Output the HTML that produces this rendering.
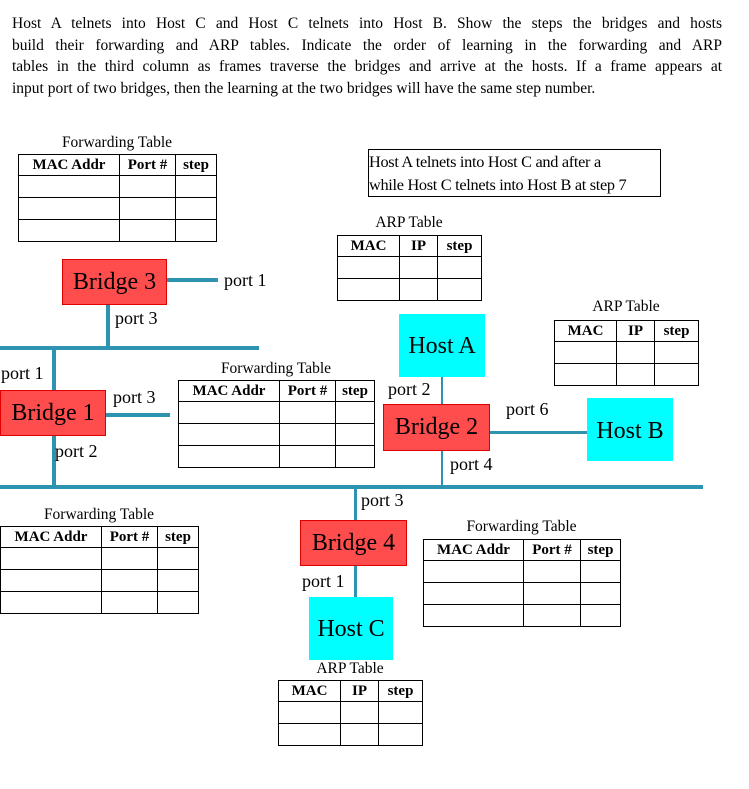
<!DOCTYPE html>
<html><head><meta charset="utf-8"><style>
body{margin:0;width:749px;height:789px;background:#fff;position:relative;overflow:hidden;font-family:"Liberation Serif",serif;color:#000}
.a{position:absolute}
.p{left:12px;top:13px;width:710px;font-size:15.5px;line-height:21.5px}
.p div{text-align:justify;text-align-last:justify;white-space:nowrap}
.p div.last{text-align-last:left}
table{position:absolute;border-collapse:collapse;table-layout:fixed}
td{border:1.3px solid #000;padding:0;height:20px;font-weight:bold;font-size:15px;text-align:center;line-height:18px}
tr.d td{height:21px}
.t{font-size:15.5px;text-align:center;white-space:nowrap}
.l{position:absolute;background:#2e93b0}
.br{position:absolute;background:#ff4c4c;border:1px solid #e00000;font-size:24px;text-align:center;box-sizing:border-box}
.h{position:absolute;background:#00ffff;font-size:24px;text-align:center;box-sizing:border-box}
.pl{position:absolute;font-size:18px;line-height:20px;white-space:nowrap}
</style></head><body>
<div class="a p">
<div style="white-space:normal">Host A telnets into Host C and Host C telnets into Host B. Show the steps the bridges and hosts</div>
<div style="white-space:normal">build their forwarding and ARP tables. Indicate the order of learning in the forwarding and ARP</div>
<div style="white-space:normal">tables in the third column as frames traverse the bridges and arrive at the hosts. If a frame appears at</div>
<div class="last">input port of two bridges, then the learning at the two bridges will have the same step number.</div>
</div>

<!-- FT top-left -->
<div class="a t" style="left:18px;top:134px;width:198px">Forwarding Table</div>
<table style="left:18px;top:154px;width:198px"><col style="width:101px"><col style="width:56px"><col style="width:41px">
<tr><td>MAC Addr</td><td>Port #</td><td>step</td></tr><tr class="d"><td></td><td></td><td></td></tr><tr class="d"><td></td><td></td><td></td></tr><tr class="d"><td></td><td></td><td></td></tr></table>

<div class="a" style="left:368px;top:149px;width:291px;height:46px;border:1.3px solid #000;font-size:16.3px;line-height:23px;white-space:nowrap;letter-spacing:-0.3px">Host A telnets into Host C and after a<br>while Host C telnets into Host B at step 7</div>

<!-- ARP 1 -->
<div class="a t" style="left:337px;top:214px;width:144px">ARP Table</div>
<table style="left:337px;top:235px;width:144px"><col style="width:62px"><col style="width:38px"><col style="width:44px">
<tr><td>MAC</td><td>IP</td><td>step</td></tr><tr class="d"><td></td><td></td><td></td></tr><tr class="d"><td></td><td></td><td></td></tr></table>

<!-- Bridge 3 -->
<div class="br" style="left:62px;top:259px;width:105px;height:46px;line-height:44px">Bridge 3</div>
<div class="l" style="left:167px;top:278px;width:51px;height:4px"></div>
<div class="pl" style="left:224px;top:270px">port 1</div>
<div class="l" style="left:106px;top:305px;width:4px;height:43px"></div>
<div class="pl" style="left:115px;top:308px">port 3</div>
<div class="l" style="left:0;top:346px;width:259px;height:4px"></div>

<!-- Bridge 1 -->
<div class="l" style="left:52px;top:348px;width:4px;height:42px"></div>
<div class="pl" style="left:1px;top:363px">port 1</div>
<div class="br" style="left:0;top:390px;width:106px;height:46px;line-height:44px">Bridge 1</div>
<div class="l" style="left:106px;top:413px;width:64px;height:4px"></div>
<div class="pl" style="left:113px;top:387px">port 3</div>
<div class="l" style="left:52px;top:436px;width:4px;height:51px"></div>
<div class="pl" style="left:55px;top:441px">port 2</div>
<div class="l" style="left:0;top:485px;width:703px;height:4px"></div>

<!-- FT middle -->
<div class="a t" style="left:178px;top:360px;width:196px">Forwarding Table</div>
<table style="left:178px;top:380px;width:196px"><col style="width:101px"><col style="width:56px"><col style="width:39px">
<tr><td>MAC Addr</td><td>Port #</td><td>step</td></tr><tr class="d"><td></td><td></td><td></td></tr><tr class="d"><td></td><td></td><td></td></tr><tr class="d"><td></td><td></td><td></td></tr></table>

<!-- Host A / Bridge 2 / Host B -->
<div class="h" style="left:399px;top:314px;width:86px;height:63px;line-height:64px">Host A</div>
<div class="l" style="left:441px;top:377px;width:2px;height:27px"></div>
<div class="pl" style="left:388px;top:379px">port 2</div>
<div class="br" style="left:383px;top:404px;width:107px;height:47px;line-height:45px">Bridge 2</div>
<div class="l" style="left:490px;top:431px;width:97px;height:3px"></div>
<div class="pl" style="left:506px;top:399px">port 6</div>
<div class="h" style="left:587px;top:398px;width:86px;height:63px;line-height:66px">Host B</div>
<div class="l" style="left:441px;top:451px;width:2px;height:36px"></div>
<div class="pl" style="left:450px;top:454px">port 4</div>

<!-- ARP 2 -->
<div class="a t" style="left:554px;top:298px;width:144px">ARP Table</div>
<table style="left:554px;top:320px;width:144px"><col style="width:62px"><col style="width:38px"><col style="width:44px">
<tr><td>MAC</td><td>IP</td><td>step</td></tr><tr class="d"><td></td><td></td><td></td></tr><tr class="d"><td></td><td></td><td></td></tr></table>

<!-- Bridge 4 / Host C -->
<div class="l" style="left:354px;top:487px;width:3px;height:33px"></div>
<div class="pl" style="left:361px;top:490px">port 3</div>
<div class="br" style="left:300px;top:520px;width:107px;height:46px;line-height:44px">Bridge 4</div>
<div class="pl" style="left:302px;top:571px">port 1</div>
<div class="l" style="left:354px;top:566px;width:3px;height:31px"></div>
<div class="h" style="left:309px;top:597px;width:84px;height:63px;line-height:64px">Host C</div>

<!-- ARP 3 -->
<div class="a t" style="left:278px;top:660px;width:144px">ARP Table</div>
<table style="left:278px;top:680px;width:144px"><col style="width:62px"><col style="width:38px"><col style="width:44px">
<tr><td>MAC</td><td>IP</td><td>step</td></tr><tr class="d"><td></td><td></td><td></td></tr><tr class="d"><td></td><td></td><td></td></tr></table>

<!-- FT bottom-left -->
<div class="a t" style="left:0;top:506px;width:198px">Forwarding Table</div>
<table style="left:0;top:526px;width:198px"><col style="width:101px"><col style="width:56px"><col style="width:41px">
<tr><td>MAC Addr</td><td>Port #</td><td>step</td></tr><tr class="d"><td></td><td></td><td></td></tr><tr class="d"><td></td><td></td><td></td></tr><tr class="d"><td></td><td></td><td></td></tr></table>

<!-- FT right -->
<div class="a t" style="left:423px;top:518px;width:197px">Forwarding Table</div>
<table style="left:423px;top:539px;width:197px"><col style="width:100px"><col style="width:57px"><col style="width:40px">
<tr><td>MAC Addr</td><td>Port #</td><td>step</td></tr><tr class="d"><td></td><td></td><td></td></tr><tr class="d"><td></td><td></td><td></td></tr><tr class="d"><td></td><td></td><td></td></tr></table>
</body></html>
